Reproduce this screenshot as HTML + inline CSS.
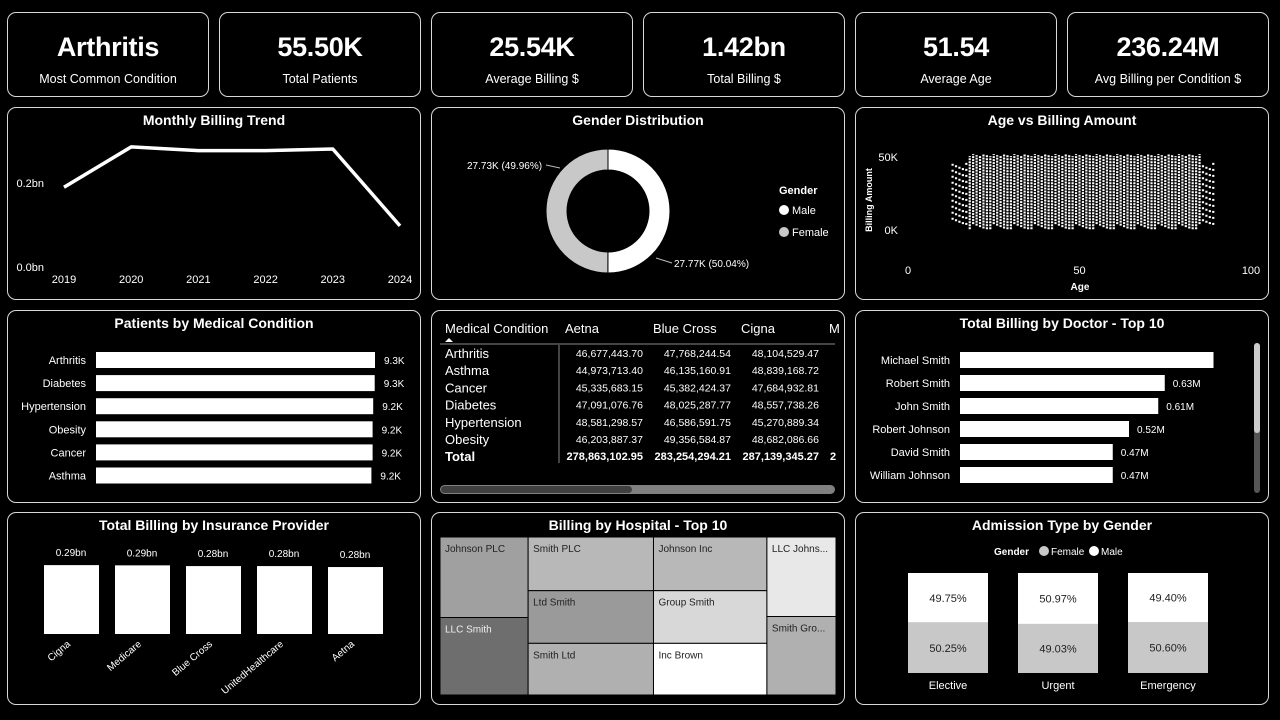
<!DOCTYPE html>
<html><head><meta charset="utf-8">
<style>
*{margin:0;padding:0;box-sizing:border-box}
body{width:1280px;height:720px;background:#000;color:#fff;font-family:"Liberation Sans",sans-serif;position:relative;overflow:hidden}
.card{position:absolute;border:1.5px solid #d8d8d8;border-radius:9px;background:#000}
.kv{position:absolute;left:0;right:0;top:19px;text-align:center;font-size:27px;font-weight:bold;letter-spacing:-0.3px}
.kl{position:absolute;left:0;right:0;top:59px;text-align:center;font-size:12.5px}
.title{position:absolute;left:0;right:0;top:4px;text-align:center;font-size:14px;font-weight:bold}
svg{position:absolute;left:0;top:0}
text{fill:#fff;font-family:"Liberation Sans",sans-serif}
</style></head><body>

<div class="card" style="left:7px;top:12px;width:202px;height:85px"><div class="kv">Arthritis</div><div class="kl">Most Common Condition</div></div>
<div class="card" style="left:219px;top:12px;width:202px;height:85px"><div class="kv">55.50K</div><div class="kl">Total Patients</div></div>
<div class="card" style="left:431px;top:12px;width:202px;height:85px"><div class="kv">25.54K</div><div class="kl">Average Billing $</div></div>
<div class="card" style="left:643px;top:12px;width:202px;height:85px"><div class="kv">1.42bn</div><div class="kl">Total Billing $</div></div>
<div class="card" style="left:855px;top:12px;width:202px;height:85px"><div class="kv">51.54</div><div class="kl">Average Age</div></div>
<div class="card" style="left:1067px;top:12px;width:202px;height:85px"><div class="kv">236.24M</div><div class="kl">Avg Billing per Condition $</div></div>

<div class="card" style="left:7px;top:107px;width:414px;height:193px"><div class="title">Monthly Billing Trend</div></div>
<div class="card" style="left:431px;top:107px;width:414px;height:193px"><div class="title">Gender Distribution</div></div>
<div class="card" style="left:855px;top:107px;width:414px;height:193px"><div class="title">Age vs Billing Amount</div></div>
<div class="card" style="left:7px;top:310px;width:414px;height:193px"><div class="title">Patients by Medical Condition</div></div>
<div class="card" style="left:431px;top:310px;width:414px;height:193px"></div>
<div class="card" style="left:855px;top:310px;width:414px;height:193px"><div class="title">Total Billing by Doctor - Top 10</div></div>
<div class="card" style="left:7px;top:512px;width:414px;height:193px"><div class="title">Total Billing by Insurance Provider</div></div>
<div class="card" style="left:431px;top:512px;width:414px;height:193px"><div class="title">Billing by Hospital - Top 10</div></div>
<div class="card" style="left:855px;top:512px;width:414px;height:193px"><div class="title">Admission Type by Gender</div></div>

<svg id="s" width="1280" height="720"></svg>

<script>
// Monthly trend
const years=['2019','2020','2021','2022','2023','2024'];
const yearBilling=[0.19,0.286,0.277,0.277,0.281,0.098];
const trendTicks=[0,0.2];
// Gender
const genders=['Male','Female'];
const genderCounts=[27.77,27.73];
const genderLabels=['27.77K (50.04%)','27.73K (49.96%)'];
// Scatter
const scatterAges=[];for(let a=13;a<=89;a++)scatterAges.push(a);
const scatterMin=[4,3,2,1,0.5,0.5];
const scatterMaxK=52;
// Conditions
const conditions=['Arthritis','Diabetes','Hypertension','Obesity','Cancer','Asthma'];
const conditionPatients=[9.31,9.30,9.25,9.23,9.23,9.19];
const conditionLabels=['9.3K','9.3K','9.2K','9.2K','9.2K','9.2K'];
// Doctors
const doctors=['Michael Smith','Robert Smith','John Smith','Robert Johnson','David Smith','William Johnson'];
const doctorBilling=[0.78,0.63,0.61,0.52,0.47,0.47];
const doctorLabels=['','0.63M','0.61M','0.52M','0.47M','0.47M'];
// Insurance
const insurers=['Cigna','Medicare','Blue Cross','UnitedHealthcare','Aetna'];
const insurerBilling=[0.287,0.286,0.283,0.283,0.279];
const insurerLabels=['0.29bn','0.29bn','0.28bn','0.28bn','0.28bn'];
// Hospitals
const hospitals=['Johnson PLC','LLC Smith','Smith PLC','Ltd Smith','Smith Ltd','Johnson Inc','Group Smith','Inc Brown','LLC Johns...','Smith Gro...'];
const hospitalBilling=[7040,6776,6678,6552,6426,6042,5928,5814,5451,5382];
const hospitalColumns=[[0,1],[2,3,4],[5,6,7],[8,9]];
const hospitalShades=['#a0a0a0','#6e6e6e','#b8b8b8','#9a9a9a','#b0b0b0','#b8b8b8','#d8d8d8','#ffffff','#e8e8e8','#b0b0b0'];
// Admission
const admissionTypes=['Elective','Urgent','Emergency'];
const admissionMale=[49.75,50.97,49.40];
const admissionFemale=[50.25,49.03,50.60];

const S=document.getElementById('s');const NS='http://www.w3.org/2000/svg';
function el(t,a,txt){const e=document.createElementNS(NS,t);for(const k in a)e.setAttribute(k,a[k]);if(txt!==undefined)e.textContent=txt;S.appendChild(e);return e;}

// trend
{const x=i=>64+i*(400-64)/(years.length-1),y=v=>267-v*(267-183)/0.2;
let p='';yearBilling.forEach((v,i)=>p+=(i?'L':'M')+x(i)+' '+y(v));
const l=el('path',{d:p,fill:'none',stroke:'#fff','stroke-width':3.5,'stroke-linejoin':'round'});

years.forEach((t,i)=>{const e=el('text',{x:x(i),y:283,'text-anchor':'middle','font-size':11},t);});
trendTicks.forEach(v=>{const e=el('text',{x:44,y:y(v)+4,'text-anchor':'end','font-size':11},v.toFixed(1)+'bn');});}

// donut
{const cx=608,cy=211,R=62,r=41,tot=genderCounts.reduce((a,b)=>a+b);let a0=-Math.PI/2;
const cols=['#ffffff','#c8c8c8'];
genderCounts.forEach((v,i)=>{const a1=a0+v/tot*2*Math.PI,lg=(a1-a0)>Math.PI?1:0;
const P=(rr,a)=>(cx+rr*Math.cos(a))+' '+(cy+rr*Math.sin(a));
const e=el('path',{d:`M${P(R,a0)}A${R} ${R} 0 ${lg} 1 ${P(R,a1)}L${P(r,a1)}A${r} ${r} 0 ${lg} 0 ${P(r,a0)}Z`,fill:cols[i],stroke:'#000','stroke-width':1});
a0=a1;});
let e=el('text',{x:674,y:267,'font-size':10},genderLabels[0]);
el('line',{x1:656,y1:258,x2:672,y2:263,stroke:'#bbb'});
e=el('text',{x:467,y:169,'font-size':10},genderLabels[1]);
el('line',{x1:546,y1:165,x2:560,y2:168,stroke:'#bbb'});
e=el('text',{x:779,y:194,'font-size':11,'font-weight':'bold'},'Gender');
genders.forEach((g,i)=>{const c=el('circle',{cx:784,cy:210+i*22,r:5,fill:cols[i]});
const t=el('text',{x:792,y:214+i*22,'font-size':11},g);});}

// scatter
{const x=a=>908+a*(1251-908)/100,y=v=>230-v*(230-157)/50;
scatterAges.forEach((a,i)=>{const edge=a<18||a>85;const lo=edge?scatterMin[i%6]+3:scatterMin[i%6];const hi=edge?48-(i%4):scatterMaxK-(i%3)*0.7;
const e=el('line',{x1:x(a),x2:x(a),y1:y(lo),y2:y(hi),stroke:'#fff','stroke-width':2.2,'stroke-dasharray':edge?'2 4':'2 1'});
});
[[0,'0'],[50,'50'],[100,'100']].forEach(([v,t])=>{const e=el('text',{x:x(v),y:274,'text-anchor':'middle','font-size':11},t);});
[[0,'0K'],[50,'50K']].forEach(([v,t])=>{const e=el('text',{x:898,y:y(v)+4,'text-anchor':'end','font-size':11},t);});
let e=el('text',{x:1080,y:290,'text-anchor':'middle','font-size':10,'font-weight':'bold'},'Age');
e=el('text',{x:0,y:0,'text-anchor':'middle','font-size':9,'font-weight':'bold',transform:'translate(872,200) rotate(-90)'},'Billing Amount');}

// conditions
{const w=v=>v*279/9.31;
conditions.forEach((c,i)=>{const yy=352+i*23.1;
let e=el('rect',{x:96,y:yy,width:w(conditionPatients[i]),height:16,fill:'#fff'});
e=el('text',{x:86,y:yy+12,'text-anchor':'end','font-size':11},c);
e=el('text',{x:96+w(conditionPatients[i])+9,y:yy+12,'font-size':10},conditionLabels[i]);});}

// matrix
{const rows=[['Arthritis','46,677,443.70','47,768,244.54','48,104,529.47'],['Asthma','44,973,713.40','46,135,160.91','48,839,168.72'],['Cancer','45,335,683.15','45,382,424.37','47,684,932.81'],['Diabetes','47,091,076.76','48,025,287.77','48,557,738.26'],['Hypertension','48,581,298.57','46,586,591.75','45,270,889.34'],['Obesity','46,203,887.37','49,356,584.87','48,682,086.66'],['Total','278,863,102.95','283,254,294.21','287,139,345.27']];
[['Medical Condition',445],['Aetna',565],['Blue Cross',653],['Cigna',741],['M',829]].forEach(([t,x])=>{const e=el('text',{x:x,y:333,'font-size':13},t);});
el('path',{d:'M445 342 L449 338 L453 342Z',fill:'#fff'});
el('line',{x1:440,y1:344,x2:835,y2:344,stroke:'#888'});
el('line',{x1:559,y1:345,x2:559,y2:463,stroke:'#888'});
rows.forEach((r,i)=>{const yy=358+i*17.2,b=i==6;
let e=el('text',{x:445,y:yy,'font-size':13,'font-weight':b?'bold':'normal'},r[0]);
[643,731,819].forEach((x,j)=>{e=el('text',{x:x,y:yy-1,'text-anchor':'end','font-size':b?11:10.5,'font-weight':b?'bold':'normal'},r[j+1]);});
if(b){e=el('text',{x:830,y:yy-1,'font-size':11,'font-weight':'bold'},'2');}});
let e=el('rect',{x:440,y:485,width:395,height:9,rx:4.5,fill:'#808080'});
e=el('rect',{x:441,y:486,width:191,height:7,rx:3.5,fill:'#404040'});}

// doctors
{const w=v=>v*325;
doctors.forEach((d,i)=>{const yy=352+i*23;
let e=el('rect',{x:960,y:yy,width:w(doctorBilling[i]),height:16,fill:'#fff'});
e=el('text',{x:950,y:yy+12,'text-anchor':'end','font-size':11},d);
e=el('text',{x:960+w(doctorBilling[i])+8,y:yy+12,'font-size':10},doctorLabels[i]);});
let e=el('rect',{x:1254,y:343,width:6,height:150,rx:3,fill:'#555'});
e=el('rect',{x:1254,y:343,width:6,height:90,rx:3,fill:'#ccc'});}

// insurance
{const h=v=>v*240;
insurers.forEach((n,i)=>{const x0=44+i*71,hh=h(insurerBilling[i]);
let e=el('rect',{x:x0,y:634-hh,width:55,height:hh,fill:'#fff'});
e=el('text',{x:x0+27,y:634-hh-9,'text-anchor':'middle','font-size':10},insurerLabels[i]);
e=el('text',{x:0,y:0,'text-anchor':'end','font-size':10,transform:`translate(${x0+27},645) rotate(-40)`},n);});}

// treemap
{const X0=440,Y0=537,W=396,H=158,tot=hospitalBilling.reduce((a,b)=>a+b);let cx=X0;
hospitalColumns.forEach(col=>{const cs=col.reduce((a,i)=>a+hospitalBilling[i],0),cw=W*cs/tot;let cy=Y0;
col.forEach(i=>{const ch=H*hospitalBilling[i]/cs;
let e=el('rect',{x:cx,y:cy,width:cw,height:ch,fill:hospitalShades[i],stroke:'#000','stroke-width':1});
e=el('text',{x:cx+5,y:cy+15,'font-size':10,style:'fill:'+(hospitalShades[i]=='#6e6e6e'?'#eee':'#222')},hospitals[i]);
cy+=ch;});cx+=cw;});}

// admission
{const H=100,T=573;
let e=el('text',{x:994,y:555,'font-size':10,'font-weight':'bold'},'Gender');
el('circle',{cx:1044,cy:551,r:5,fill:'#c8c8c8'});e=el('text',{x:1051,y:555,'font-size':10},'Female');
el('circle',{cx:1094,cy:551,r:5,fill:'#fff'});e=el('text',{x:1101,y:555,'font-size':10},'Male');
admissionTypes.forEach((t,i)=>{const x0=908+i*110,mh=H*admissionMale[i]/100,fh=H*admissionFemale[i]/100;
let e=el('rect',{x:x0,y:T,width:80,height:mh,fill:'#fff'});
e=el('rect',{x:x0,y:T+mh,width:80,height:fh,fill:'#c8c8c8'});
e=el('text',{x:x0+40,y:T+mh/2+4,'text-anchor':'middle','font-size':11,style:'fill:#222'},admissionMale[i].toFixed(2)+'%');
e=el('text',{x:x0+40,y:T+mh+fh/2+4,'text-anchor':'middle','font-size':11,style:'fill:#222'},admissionFemale[i].toFixed(2)+'%');
e=el('text',{x:x0+40,y:689,'text-anchor':'middle','font-size':11},t);});}
</script>
</body></html>
